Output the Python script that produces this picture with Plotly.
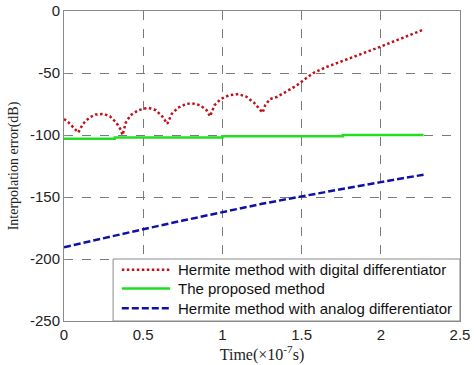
import plotly.graph_objects as go

# Hermite method with digital differentiator (red dotted)
red_x = [0, 0.03, 0.06, 0.09, 0.12, 0.16, 0.20, 0.25, 0.29, 0.33, 0.355, 0.37,
         0.39, 0.42, 0.47, 0.53, 0.58, 0.62, 0.652,
         0.68, 0.72, 0.77, 0.81, 0.86, 0.90, 0.922,
         0.95, 0.99, 1.04, 1.10, 1.15, 1.20, 1.254,
         1.27, 1.30, 1.343, 1.39, 1.427, 1.47, 1.50, 1.54, 1.574, 1.65, 1.72,
         1.80, 1.90, 1.994, 2.10, 2.20, 2.27]
red_y = [-87, -90, -94, -98, -91, -86, -83.5, -83, -85, -90, -95, -100,
         -90, -84, -80, -78, -80, -85, -91,
         -83, -78, -75, -74.5, -76, -80, -85,
         -76, -71, -68, -67, -69, -74, -82,
         -76, -71, -69.4, -66, -63.5, -60, -57, -53, -50, -45.5, -42,
         -38.5, -33.5, -29, -23.5, -18.5, -15]

# The proposed method (green solid)
green_x = [0, 0.32, 0.32, 1.0, 1.0, 1.76, 1.76, 2.27]
green_y = [-103, -103, -102, -102, -101, -101, -100, -100]

# Hermite method with analog differentiator (blue dashed)
blue_x = [0, 0.25, 0.5, 0.75, 1.0, 1.25, 1.5, 1.75, 2.0, 2.27]
blue_y = [-190.5, -183, -176, -169, -162, -155.5, -149.5, -143.5, -138, -132]

series_names = ["Hermite method with digital differentiator",
                "The proposed method",
                "Hermite method with analog differentiator"]

x_ticks = [0, 0.5, 1, 1.5, 2, 2.5]
x_labels = ["0", "0.5", "1", "1.5", "2", "2.5"]
y_ticks = [0, -50, -100, -150, -200, -250]
y_labels = ["0", "-50", "-100", "-150", "-200", "-250"]

RED, GREEN, BLUE = "#c0101a", "#22dd22", "#1010a8"
RED_DASH, BLUE_DASH = "2.5px,2.5px", "7px,3px"

fig = go.Figure()
fig.add_trace(go.Scatter(x=red_x, y=red_y, mode="lines", name=series_names[0],
                         line=dict(color=RED, width=2.5, dash=RED_DASH)))
fig.add_trace(go.Scatter(x=green_x, y=green_y, mode="lines", name=series_names[1],
                         line=dict(color=GREEN, width=2.5)))
fig.add_trace(go.Scatter(x=blue_x, y=blue_y, mode="lines", name=series_names[2],
                         line=dict(color=BLUE, width=2.5, dash=BLUE_DASH)))

axis_common = dict(showgrid=True, gridcolor="#7a7a7a", griddash="dash", gridwidth=1,
                   showline=True, linecolor="#8a8a8a", linewidth=1, mirror=True,
                   ticks="inside", ticklen=4, tickcolor="#8a8a8a",
                   zeroline=False, automargin=False,
                   tickfont=dict(family="Liberation Sans, Arial", size=15, color="#222"))

fig.update_layout(
    width=474, height=365,
    margin=dict(l=64, r=14, t=11, b=44),
    paper_bgcolor="white", plot_bgcolor="white",
    showlegend=False,
    xaxis=dict(range=[0, 2.5], tickvals=x_ticks, ticktext=x_labels,
               title=dict(text="Time(×10<sup>-7</sup>s)", standoff=0,
                          font=dict(family="Liberation Serif, Times New Roman", size=16, color="#222")),
               **axis_common),
    yaxis=dict(range=[-250, 0], tickvals=y_ticks, ticktext=y_labels,
               title=dict(text="Interpolation error(dB)", standoff=8,
                          font=dict(family="Liberation Serif, Times New Roman", size=14, color="#222")),
               **axis_common),
)

# Legend box (drawn in the lower right of the plot area)
fig.add_shape(type="rect", xref="paper", yref="paper", x0=0.124, x1=1.0, y0=0.0, y1=0.2,
              line=dict(color="#8a8a8a", width=1), fillcolor="white", layer="above")
leg_rows = [0.165, 0.105, 0.041]
leg_styles = [dict(color=RED, width=2.5, dash=RED_DASH),
              dict(color=GREEN, width=2.5),
              dict(color=BLUE, width=2.5, dash=BLUE_DASH)]
for name, yy, st in zip(series_names, leg_rows, leg_styles):
    fig.add_shape(type="line", xref="paper", yref="paper", x0=0.146, x1=0.268, y0=yy, y1=yy,
                  line=st, layer="above")
    fig.add_annotation(xref="paper", yref="paper", x=0.282, y=yy, text=name, showarrow=False,
                       xanchor="left", yanchor="middle",
                       font=dict(family="Liberation Sans, Arial", size=15, color="#111"))

fig.write_html("out.html", config={"displayModeBar": False},
               post_script="document.body.style.margin='0';document.body.style.padding='0';")
